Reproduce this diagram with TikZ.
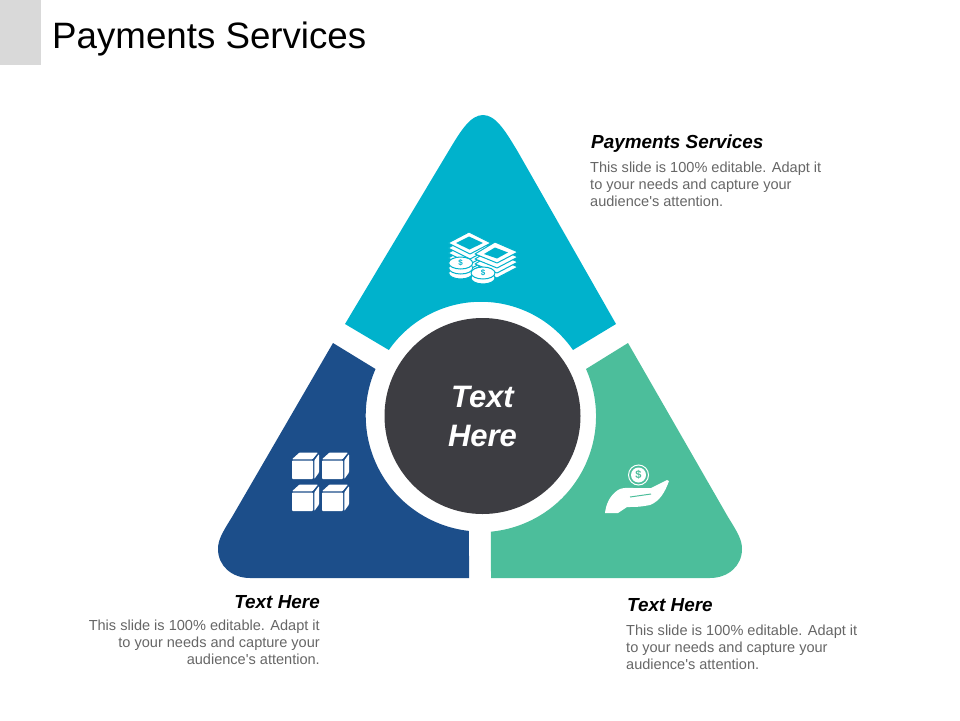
\documentclass[tikz,border=0pt]{standalone}
\usepackage{fontspec}
\setmainfont{Liberation Sans}[Ligatures=TeXOff]
\definecolor{cyanpart}{HTML}{00B2CC}
\definecolor{bluepart}{HTML}{1C4E8A}
\definecolor{greenpart}{HTML}{4CBE9B}
\definecolor{darkhub}{HTML}{3D3D42}
\definecolor{bodygray}{HTML}{666666}
\tikzset{
	head/.style={inner sep=0pt, font=\fontsize{18.9}{20}\selectfont\bfseries\itshape, text=black},
	body/.style={inner sep=0pt, font=\fontsize{14.55}{17}\selectfont, text=bodygray},
	icon/.style={fill=white, draw=none},
	billpart/.style={fill=white, draw=cyanpart, line width=1pt, line join=round},
}
\begin{document}
\begin{tikzpicture}[x=1pt, y=-1pt]
	\useasboundingbox (0,0) rectangle (960,720);
	\fill[gray!30] (0,0) rectangle (41,65);
	\node[inner sep=0pt, anchor=base west, font=\fontsize{36.7}{40}\selectfont] (T) at (52,48) {Payments Services};

	% three parts
	\fill[cyanpart] (345,324) -- (448,152) .. controls (460,132) and (470,115) .. (483,115) .. controls (496,115) and (506,132) .. (518,152) -- (616,324) -- (573,350) arc[start angle=325.3, end angle=214.7, radius=112] -- cycle;
	\fill[bluepart] (333,343) -- (375.5,369) arc[start angle=203.7, end angle=96.3, radius=116] -- (469,578) -- (250,578) .. controls (232,578) and (218,566) .. (218,549) .. controls (218,540) and (222,533) .. (232,517) -- cycle;
	\fill[greenpart] (628,343) -- (586,369) arc[start angle=-24, end angle=84.6, radius=116] -- (491,578) -- (710,578) .. controls (728,578) and (742,566) .. (742,549) .. controls (742,540) and (738,533) .. (728,517) -- cycle;

	% hub
	\node[circle, fill=darkhub, minimum size=196pt, inner sep=0pt, align=center, text=white, font=\fontsize{31}{39}\selectfont\bfseries\itshape] (H) at (482.5,416) {Text\\Here};

	% money icon
	\foreach \d in {20,15,10,5,0}
		\draw[billpart, shift={(0,\d)}] (448,243) -- (469,232) -- (491,243) -- (470,254) -- cycle;
	\fill[cyanpart] (456,243) -- (469,236.5) -- (483,243) -- (469.5,249.5) -- cycle;
	\foreach \d in {15,10,5,0}
		\draw[billpart, shift={(0,\d)}] (475,254) -- (495,242) -- (518,252) -- (497,263) -- cycle;
	\fill[cyanpart] (484,254) -- (495,247.5) -- (508,252.5) -- (497,258.5) -- cycle;
	\foreach \d in {10,5,0}
		\draw[billpart, shift={(0,\d)}] (460.7,263) ellipse[x radius=12, y radius=6];
	\foreach \d in {5,0}
		\draw[billpart, shift={(0,\d)}] (483,273) ellipse[x radius=12, y radius=6];
	\node[inner sep=0pt, text=cyanpart, font=\fontsize{8}{8}\selectfont\bfseries] (D1) at (460.7,263) {\$};
	\node[inner sep=0pt, text=cyanpart, font=\fontsize{8}{8}\selectfont\bfseries] (D2) at (483,273) {\$};

	% cubes icon
	\foreach \x/\y in {0/0,30/0,0/32,30/32} {
		\begin{scope}[shift={(\x,\y)}]
			\fill[icon, rounded corners=.8pt] (292,459.3) -- (299.5,452.5) -- (318,452.5) -- (312.5,459.3) -- cycle;
			\fill[icon, rounded corners=.8pt] (292,460.5) rectangle (313,479);
			\fill[icon, rounded corners=.8pt] (314.3,460.5) -- (319,454) -- (319,472.5) -- (314.3,479) -- cycle;
		\end{scope}
	}

	% hand icon
	\fill[icon] (605,513) .. controls (606,505) and (609,496) .. (618,490) .. controls (625,486) and (632,489) .. (651,488) -- (667,480) -- (669,481) .. controls (665,492) and (660,501) .. (650,505) .. controls (640,507) and (635,507) .. (627,507) -- (618,513) -- cycle;
	\draw[greenpart, line width=1pt] (630,497) -- (651,494);
	\draw[white, line width=1pt] (638.5,475) circle[radius=10];
	\node[circle, fill=white, minimum size=15pt, inner sep=0pt, text=greenpart, font=\fontsize{11}{11}\selectfont\bfseries] (D3) at (638.5,475) {\$};

	% texts
	\node[head, anchor=base west] (A) at (591,148) {Payments Services};
	\node[body, anchor=north west, align=left] (a) at (590,162) {This slide is 100\% editable.  Adapt it\\to your needs and capture your\\audience's attention.};
	\node[head, anchor=base east] (B) at (320,608) {Text Here};
	\node[body, anchor=north east, align=right] (b) at (320,620) {This slide is 100\% editable.  Adapt it\\to your needs and capture your\\audience's attention.};
	\node[head, anchor=base west] (C) at (627,611) {Text Here};
	\node[body, anchor=north west, align=left] (c) at (626,625) {This slide is 100\% editable.  Adapt it\\to your needs and capture your\\audience's attention.};
\end{tikzpicture}
\end{document}
